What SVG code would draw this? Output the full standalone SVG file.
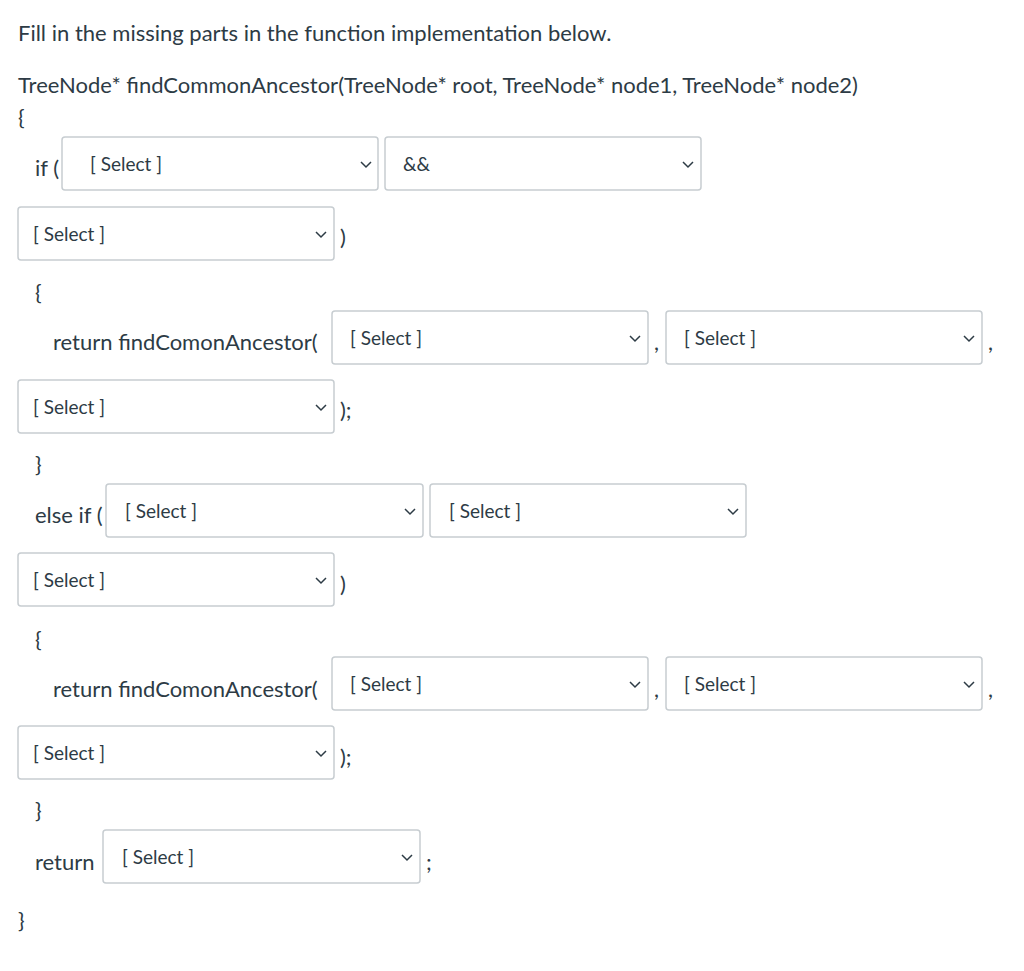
<svg xmlns="http://www.w3.org/2000/svg" xmlns:xlink="http://www.w3.org/1999/xlink" width="1024" height="971" viewBox="0 0 1024 971">
<style>
.t{font-family:Lato,"Open Sans","Liberation Sans",sans-serif;font-size:22px;fill:#2d3b45}
.s{font-family:Lato,"Open Sans","Liberation Sans",sans-serif;font-size:19px;fill:#2d3b45}
.b{fill:#fff;stroke:#c7cdd1;stroke-width:1.5}
.c{fill:none;stroke:#2d3b45;stroke-width:1.5}
</style>
<defs>
<path id="chev" class="c" d="M-5,-3 L0,2 L5,-3"/>
</defs>
<rect width="1024" height="971" fill="#fff"/>
<text class="t" x="18" y="41">Fill in the missing parts in the function implementation below.</text>
<text class="t" x="18" y="93">TreeNode* findCommonAncestor(TreeNode* root, TreeNode* node1, TreeNode* node2)</text>
<text class="t" x="18" y="125">{</text>
<text class="t" x="35" y="176">if (</text>
<g id="sel1"><rect class="b" x="62" y="137" width="316" height="53" rx="3"/><text class="s" x="90" y="171">[ Select ]</text><use href="#chev" x="366" y="165"/></g>
<g id="sel2"><rect class="b" x="385" y="137" width="316" height="53" rx="3"/><text class="s" x="403" y="171">&amp;&amp;</text><use href="#chev" x="688" y="165"/></g>
<g id="sel3"><rect class="b" x="18" y="207" width="316" height="53" rx="3"/><text class="s" x="33" y="241">[ Select ]</text><use href="#chev" x="321" y="235"/></g>
<text class="t" x="340" y="245">)</text>
<text class="t" x="35" y="300">{</text>
<text class="t" x="53" y="350">return findComonAncestor(</text>
<g id="sel4"><rect class="b" x="332" y="311" width="316" height="53" rx="3"/><text class="s" x="350" y="345">[ Select ]</text><use href="#chev" x="635" y="339"/></g>
<text class="t" x="654" y="350">,</text>
<g id="sel5"><rect class="b" x="666" y="311" width="316" height="53" rx="3"/><text class="s" x="684" y="345">[ Select ]</text><use href="#chev" x="969" y="339"/></g>
<text class="t" x="988" y="350">,</text>
<g id="sel6"><rect class="b" x="18" y="380" width="316" height="53" rx="3"/><text class="s" x="33" y="414">[ Select ]</text><use href="#chev" x="321" y="408"/></g>
<text class="t" x="340" y="418">);</text>
<text class="t" x="35" y="472">}</text>
<text class="t" x="35" y="523">else if (</text>
<g id="sel7"><rect class="b" x="106" y="484" width="317" height="53" rx="3"/><text class="s" x="125" y="518">[ Select ]</text><use href="#chev" x="410" y="512"/></g>
<g id="sel8"><rect class="b" x="430" y="484" width="316" height="53" rx="3"/><text class="s" x="449" y="518">[ Select ]</text><use href="#chev" x="733" y="512"/></g>
<g id="sel9"><rect class="b" x="18" y="553" width="316" height="53" rx="3"/><text class="s" x="33" y="587">[ Select ]</text><use href="#chev" x="321" y="581"/></g>
<text class="t" x="340" y="592">)</text>
<text class="t" x="35" y="647">{</text>
<text class="t" x="53" y="697">return findComonAncestor(</text>
<g id="sel10"><rect class="b" x="332" y="657" width="316" height="53" rx="3"/><text class="s" x="350" y="691">[ Select ]</text><use href="#chev" x="635" y="685"/></g>
<text class="t" x="654" y="697">,</text>
<g id="sel11"><rect class="b" x="666" y="657" width="316" height="53" rx="3"/><text class="s" x="684" y="691">[ Select ]</text><use href="#chev" x="969" y="685"/></g>
<text class="t" x="988" y="697">,</text>
<g id="sel12"><rect class="b" x="18" y="726" width="316" height="53" rx="3"/><text class="s" x="33" y="760">[ Select ]</text><use href="#chev" x="321" y="754"/></g>
<text class="t" x="340" y="765">);</text>
<text class="t" x="35" y="818">}</text>
<text class="t" x="35" y="870">return</text>
<g id="sel13"><rect class="b" x="103" y="830" width="317" height="53" rx="3"/><text class="s" x="122" y="864">[ Select ]</text><use href="#chev" x="407" y="858"/></g>
<text class="t" x="426" y="870">;</text>
<text class="t" x="18" y="928">}</text>
</svg>
